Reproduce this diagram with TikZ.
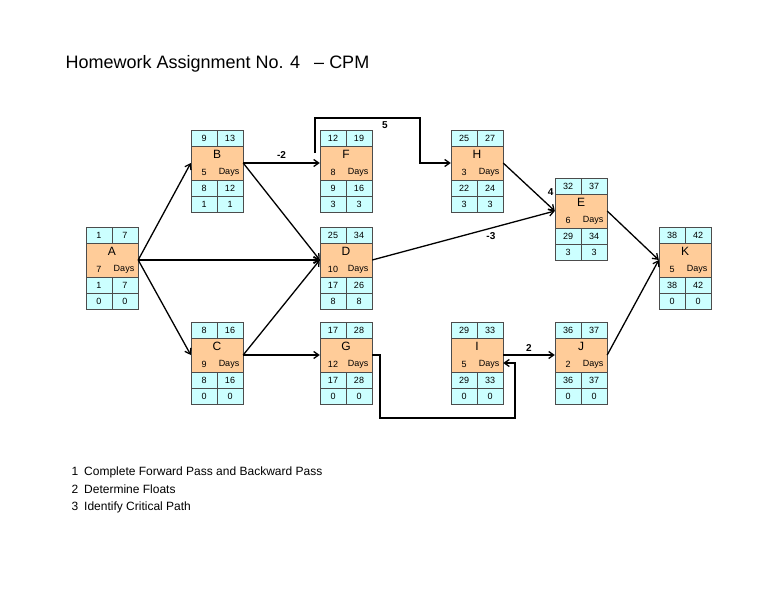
\documentclass[tikz,border=0pt]{standalone}
\usepackage{fontspec}
\setmainfont{Liberation Sans}
\usetikzlibrary{positioning,arrows.meta}
\definecolor{cellcyan}{HTML}{CCFFFF}
\definecolor{cellorange}{HTML}{FFCC99}
\tikzstyle{cell} = [rectangle, draw=black!70, fill=cellcyan, minimum width=26pt, minimum height=16pt, inner sep=0pt, font=\fontsize{9}{9}\selectfont]
\tikzstyle{task} = [rectangle, draw=black!70, fill=cellorange, minimum width=52pt, minimum height=34pt, inner sep=0pt]
\tikzstyle{arrow} = [line width=1.3pt,-{Straight Barb[length=5pt,width=7pt]}]
\tikzstyle{lbl} = [font=\bfseries\fontsize{10}{10}\selectfont]
% activity box: name, x, y, ES, EF, duration, LS, LF, float
\newcommand{\activity}[9]{%
\node (#1) at (#2+26,#3+33) [task] {};
\node at (#2+26,#3+24) {\fontsize{12}{12}\selectfont #1};
\node at (#2+13,#3+42) {\fontsize{9}{9}\selectfont #6};
\node at (#2+38,#3+42) {\fontsize{9}{9}\selectfont Days};
\node (#1es) at (#2+13,#3+8) [cell] {#4};
\node (#1ef) at (#2+39,#3+8) [cell] {#5};
\node (#1ls) at (#2+13,#3+58) [cell] {#7};
\node (#1lf) at (#2+39,#3+58) [cell] {#8};
\node (#1tf) at (#2+13,#3+74) [cell] {#9};
\node (#1ff) at (#2+39,#3+74) [cell] {#9};
}
\begin{document}
\begin{tikzpicture}[x=1pt,y=-1pt]
\useasboundingbox (0,0) rectangle (768,594);
\node (title) at (62,64) [anchor=west, font=\fontsize{18}{18}\selectfont] {Homework Assignment No. 4\enspace\ -- CPM};
%
\activity{A}{86}{227}{1}{7}{7}{1}{7}{0}
\activity{B}{191}{130}{9}{13}{5}{8}{12}{1}
\activity{C}{191}{322}{8}{16}{9}{8}{16}{0}
\activity{F}{320}{130}{12}{19}{8}{9}{16}{3}
\activity{D}{320}{227}{25}{34}{10}{17}{26}{8}
\activity{G}{320}{322}{17}{28}{12}{17}{28}{0}
\activity{H}{451}{130}{25}{27}{3}{22}{24}{3}
\activity{I}{451}{322}{29}{33}{5}{29}{33}{0}
\activity{E}{555}{178}{32}{37}{6}{29}{34}{3}
\activity{J}{555}{322}{36}{37}{2}{36}{37}{0}
\activity{K}{659}{227}{38}{42}{5}{38}{42}{0}
%
\coordinate (fup) at (315,153);
\coordinate (gout) at (380,355);
\coordinate (iin) at (515,363);
%
\draw [arrow] (A.east) -- (B.west);
\draw [arrow] (A.east) -- (C.west);
\draw [arrow] (A.east) -- (D.west);
\draw [arrow] (B.east) -- node[lbl, above=1pt] {-2} (F.west);
\draw [arrow] (B.east) -- (D.west);
\draw [arrow] (C.east) -- (D.west);
\draw [arrow] (C.east) -- (G.west);
\draw [arrow] (fup) |- (385,118) node[lbl, below=0pt] {5} -| (420,163) -- (H.west);
\draw [arrow] (H.east) -- node[lbl, above right=0pt and 2pt, pos=0.75] {4} (E.west);
\draw [arrow] (D.east) -- node[lbl, below, pos=0.65] {-3} (E.west);
\draw [arrow] (E.east) -- (K.west);
\draw [arrow] (G.east) -- (gout) |- (515,418) -- (iin) -- (I.east |- iin);
\draw [arrow] (I.east) -- node[lbl, above] {2} (J.west);
\draw [arrow] (J.east) -- (K.west);
%
\node (tasks) at (68,490) [anchor=west, align=left, font=\fontsize{12}{17.5}\selectfont] {1\enspace Complete Forward Pass and Backward Pass\\2\enspace Determine Floats\\3\enspace Identify Critical Path};
\end{tikzpicture}
\end{document}
